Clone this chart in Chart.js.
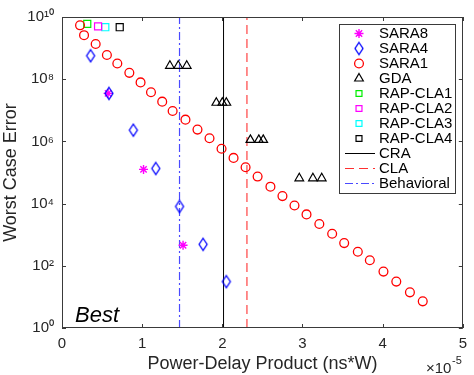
<!DOCTYPE html>
<html><head><meta charset="utf-8">
<script src="https://cdn.jsdelivr.net/npm/chart.js@4.4.1/dist/chart.umd.min.js"></script>
<style>html,body{margin:0;padding:0;background:#fff;}#wrap{width:474px;height:375px;}</style>
</head><body><div id="wrap"><canvas id="c" width="474" height="375"></canvas></div>
<script>
// x values in units of 1e-5 ns*W
const sara1X = [0.225,0.275,0.42,0.56,0.69,0.84,0.98,1.11,1.25,1.38,1.54,1.69,1.84,1.99,2.14,2.29,2.44,2.60,2.75,2.90,3.05,3.21,3.37,3.52,3.69,3.84,4.01,4.17,4.34,4.50];
const sara1Y = [5.4e9,2.6e9,1.35e9,6.0e8,3.2e8,1.6e8,7.9e7,3.8e7,1.9e7,9.5e6,5.0e6,2.4e6,1.26e6,5.8e5,2.95e5,1.48e5,7.4e4,3.5e4,1.74e4,8.7e3,4.5e3,2.2e3,1.07e3,537,282,151,65,31,14,7.2];
const sara4X = [0.357,0.586,0.89,1.17,1.466,1.76,2.05];
const sara4Y = [5.7e8,3.5e7,2.3e6,1.35e5,8.1e3,490,31];
const sara8X = [0.575,1.017,1.51];
const sara8Y = [3.5e7,1.26e5,457];
const gdaX = [1.346,1.45,1.556, 1.925,2.0,2.05, 2.35,2.455,2.51, 2.96,3.13,3.24];
const gdaY = [2.7e8,2.7e8,2.7e8, 1.75e7,1.75e7,1.75e7, 1.12e6,1.12e6,1.12e6, 6.5e4,6.5e4,6.5e4];
const rap1X = [0.315], rap1Y = [6.0e9];
const rap2X = [0.45],  rap2Y = [5.0e9];
const rap3X = [0.54],  rap3Y = [4.7e9];
const rap4X = [0.72],  rap4Y = [4.7e9];
const craX = 2.015, claX = 2.307, behavioralX = 1.466;
const lineYRange = [1, 1e10];
const xTickLabels = ['0','1','2','3','4','5'];
const yTickValues = [1,1e2,1e4,1e6,1e8,1e10];
const yTickLabels = ['10\u2070','10\u00B2','10\u2074','10\u2076','10\u2078','10\u00B9\u2070'];
const legendLabels = ['SARA8','SARA4','SARA1','GDA','RAP-CLA1','RAP-CLA2','RAP-CLA3','RAP-CLA4','CRA','CLA','Behavioral'];

const FONT = "'Liberation Sans', Arial, Helvetica, sans-serif";
const AX = '#262626';

function pts(xs, ys){ return xs.map((x,i)=>({x:x, y:ys[i]})); }
function vline(x){ return lineYRange.map(y=>({x:x, y:y})); }

function makeDiamond(w, h, color, lw){
  const c = document.createElement('canvas');
  c.width = w + 4; c.height = h + 4;
  const g = c.getContext('2d');
  g.strokeStyle = color; g.lineWidth = lw;
  const cx = c.width/2, cy = c.height/2;
  g.beginPath();
  g.moveTo(cx, cy - h/2); g.lineTo(cx + w/2, cy); g.lineTo(cx, cy + h/2); g.lineTo(cx - w/2, cy);
  g.closePath(); g.stroke();
  return c;
}
const diamond = makeDiamond(8, 12, '#0000FF', 1.3);

const T = 'rgba(0,0,0,0)';
const datasets = [
  {label:'SARA8', data:pts(sara8X,sara8Y), pointStyle:'star', pointRadius:4.5, borderColor:'#FF00FF', backgroundColor:T, pointBorderWidth:1.4, order:1},
  {label:'SARA4', data:pts(sara4X,sara4Y), pointStyle:diamond, pointRadius:5, borderColor:'#0000FF', backgroundColor:T, order:0},
  {label:'SARA1', data:pts(sara1X,sara1Y), pointStyle:'circle', pointRadius:4.4, borderColor:'#FF0000', backgroundColor:T, pointBorderWidth:1.3, order:2},
  {label:'GDA', data:pts(gdaX,gdaY), pointStyle:'triangle', pointRadius:5, borderColor:'#000000', backgroundColor:T, pointBorderWidth:1.2, order:3},
  {label:'RAP-CLA1', data:pts(rap1X,rap1Y), pointStyle:'rect', pointRadius:5, borderColor:'#00EE00', backgroundColor:T, pointBorderWidth:1.2, order:4},
  {label:'RAP-CLA2', data:pts(rap2X,rap2Y), pointStyle:'rect', pointRadius:5, borderColor:'#FF00FF', backgroundColor:T, pointBorderWidth:1.2, order:5},
  {label:'RAP-CLA3', data:pts(rap3X,rap3Y), pointStyle:'rect', pointRadius:5, borderColor:'#00FFFF', backgroundColor:T, pointBorderWidth:1.2, order:6},
  {label:'RAP-CLA4', data:pts(rap4X,rap4Y), pointStyle:'rect', pointRadius:5, borderColor:'#000000', backgroundColor:T, pointBorderWidth:1.2, order:7},
  {label:'CRA', data:vline(craX), showLine:true, pointRadius:0, borderColor:'#000000', borderWidth:1, order:8},
  {label:'CLA', data:vline(claX), showLine:true, pointRadius:0, borderColor:'#FF3030', borderWidth:1.1, borderDash:[9,5], order:9},
  {label:'Behavioral', data:vline(behavioralX), showLine:true, pointRadius:0, borderColor:'#4A4AFF', borderWidth:1.2, borderDash:[8,3,2,3], order:10}
];

const decor = {
  id:'decor',
  afterDraw(chart){
    const ctx = chart.ctx, a = chart.chartArea;
    const xs = chart.scales.x, ys = chart.scales.y;
    ctx.save();
    // box
    ctx.strokeStyle = '#3a3a3a'; ctx.lineWidth = 1;
    ctx.strokeRect(Math.round(a.left)+0.5, Math.round(a.top)+0.5, Math.round(a.right-a.left)-1, Math.round(a.bottom-a.top)-1);
    // inward ticks
    ctx.beginPath();
    xs.ticks.forEach(t=>{
      const px = Math.round(xs.getPixelForValue(t.value))+0.5;
      ctx.moveTo(px, a.bottom); ctx.lineTo(px, a.bottom-4);
      ctx.moveTo(px, a.top); ctx.lineTo(px, a.top+4);
    });
    ys.ticks.forEach(t=>{
      const py = Math.round(ys.getPixelForValue(t.value))+0.5;
      ctx.moveTo(a.left, py); ctx.lineTo(a.left+4, py);
      ctx.moveTo(a.right, py); ctx.lineTo(a.right-4, py);
    });
    ctx.stroke();

    // legend
    const L = {x:339.5, y:24.5, w:116, h:169};
    ctx.fillStyle = '#fff'; ctx.fillRect(L.x, L.y, L.w, L.h);
    ctx.strokeStyle = '#3a3a3a'; ctx.strokeRect(L.x, L.y, L.w, L.h);
    ctx.font = '15px ' + FONT; ctx.textBaseline = 'middle'; ctx.textAlign = 'left';
    chart.data.datasets.forEach((ds, i)=>{
      const y = 33.5 + 15*i;
      if (ds.showLine){
        ctx.save();
        ctx.strokeStyle = ds.borderColor; ctx.lineWidth = ds.borderWidth;
        ctx.setLineDash(ds.borderDash || []);
        ctx.beginPath(); ctx.moveTo(345, y); ctx.lineTo(375, y); ctx.stroke();
        ctx.restore();
      } else {
        ctx.save();
        ctx.strokeStyle = ds.borderColor; ctx.fillStyle = 'rgba(0,0,0,0)';
        ctx.lineWidth = ds.pointBorderWidth || 1.2;
        const r = (ds.pointStyle === 'rect') ? 4.2 : ds.pointRadius;
        Chart.helpers.drawPoint(ctx, {pointStyle:ds.pointStyle, radius:r, rotation:0, borderWidth:ctx.lineWidth}, 359, y);
        ctx.restore();
      }
      ctx.fillStyle = '#000';
      ctx.fillText(legendLabels[i], 379, y+0.5);
    });

    // "Best"
    ctx.fillStyle = '#000';
    ctx.font = 'italic 22px ' + FONT; ctx.textBaseline = 'alphabetic';
    ctx.fillText('Best', 75, 321.5);

    // x10^-5
    ctx.fillStyle = AX;
    ctx.font = '15px ' + FONT;
    ctx.fillText('\u00D710', 426, 373);
    ctx.font = '11px ' + FONT;
    ctx.fillText('-5', 452, 364);
    ctx.restore();
  }
};

new Chart(document.getElementById('c'), {
  type:'scatter',
  data:{datasets:datasets},
  options:{
    responsive:false, animation:false,
    layout:{padding:{left:0, top:11, right:6, bottom:0}},
    plugins:{legend:{display:false}, tooltip:{enabled:false}},
    scales:{
      x:{type:'linear', min:0, max:5,
        afterBuildTicks(s){ s.ticks = xTickLabels.map((l,i)=>({value:i})); },
        ticks:{color:AX, font:{family:FONT, size:15}, padding:7, maxRotation:0, autoSkip:false,
          callback:(v,i)=>xTickLabels[i]},
        grid:{display:false, drawTicks:false}, border:{display:false},
        title:{display:true, text:'Power-Delay Product (ns*W)', color:AX, font:{family:FONT, size:18}, padding:0},
        afterFit(s){ s.height = 47; }
      },
      y:{type:'logarithmic', min:1, max:1e10,
        afterBuildTicks(s){ s.ticks = yTickValues.map(v=>({value:v})); },
        ticks:{color:AX, font:{family:FONT, size:15}, padding:8, autoSkip:false,
          callback:(v,i)=>yTickLabels[i]},
        grid:{display:false, drawTicks:false}, border:{display:false},
        title:{display:true, text:'Worst Case Error', color:AX, font:{family:FONT, size:18}, padding:0},
        afterFit(s){ s.width = 62; }
      }
    }
  },
  plugins:[decor]
});
</script>
</body></html>
